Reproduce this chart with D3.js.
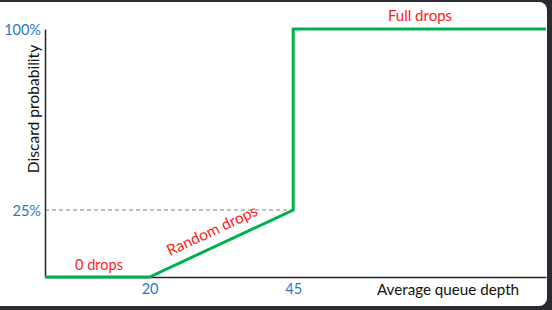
<!DOCTYPE html>
<html>
<head>
<meta charset="utf-8">
<script src="https://cdn.jsdelivr.net/npm/d3@7"></script>
<style>
  html, body { margin: 0; padding: 0; background: #2b2b2f; }
  svg { display: block; }
  text { font-family: Lato, "Open Sans", sans-serif; }
</style>
</head>
<body>
<div id="chart"></div>
<script>
var svgWidth = 552;
var svgHeight = 310;

// curve points (average queue depth, discard probability %)
var depth = [1.8, 20, 45, 45, 89];
var probability = [0, 0, 25, 100, 100];

var xTicks = [20, 45];
var yTicks = [25, 100];
var yTickLabels = ["25%", "100%"];

var svg = d3.select("#chart")
  .append("svg")
  .attr("width", svgWidth)
  .attr("height", svgHeight);

// white card
svg.append("rect")
  .attr("x", -10)
  .attr("y", 2)
  .attr("width", 557)
  .attr("height", 304)
  .attr("rx", 8)
  .attr("fill", "#ffffff");

var xScale = d3.scaleLinear()
  .domain([1.8, 89])
  .range([45, 546]);

// schematic y axis: lower band is stretched
var yScale = d3.scaleLinear()
  .domain([0, 25, 100])
  .range([277, 210, 29]);

// dashed guide at 25%
svg.append("line")
  .attr("x1", xScale(1.8))
  .attr("x2", xScale(45))
  .attr("y1", yScale(25))
  .attr("y2", yScale(25))
  .attr("stroke", "#808080")
  .attr("stroke-width", 1)
  .attr("stroke-dasharray", "4,3");

// axes
var bottomAxis = d3.axisBottom(xScale)
  .tickValues(xTicks)
  .tickSize(0)
  .tickPadding(7);

var leftAxis = d3.axisLeft(yScale)
  .tickValues(yTicks)
  .tickSize(0)
  .tickPadding(4)
  .tickFormat((d, i) => yTickLabels[i]);

var xAxis = svg.append("g")
  .attr("transform", `translate(0, ${yScale(0)})`)
  .call(bottomAxis);

var yAxis = svg.append("g")
  .attr("transform", `translate(${xScale(1.8)}, 0)`)
  .call(leftAxis);

[xAxis, yAxis].forEach(a => {
  a.select(".domain").attr("stroke", "#222").attr("stroke-width", 1.5);
  a.selectAll(".tick text")
    .attr("fill", "#2479cc")
    .style("font-size", "14.5px")
    .style("font-family", "Lato, 'Open Sans', sans-serif");
});
yAxis.selectAll(".tick text").attr("dy", "0.35em");

// the curve
var line = d3.line()
  .x((d, i) => xScale(depth[i]))
  .y(d => yScale(d));

svg.append("path")
  .datum(probability)
  .attr("d", line)
  .attr("fill", "none")
  .attr("stroke", "#00b050")
  .attr("stroke-width", 3)
  .attr("stroke-linejoin", "miter");

// axis titles
svg.append("text")
  .attr("x", 448)
  .attr("y", 295)
  .attr("text-anchor", "middle")
  .attr("fill", "#111")
  .style("font-size", "15.2px")
  .text("Average queue depth");

svg.append("text")
  .attr("transform", "translate(39, 109) rotate(-90)")
  .attr("text-anchor", "middle")
  .attr("fill", "#111")
  .style("font-size", "15.6px")
  .text("Discard probability");

// region labels
svg.append("text")
  .attr("x", 420)
  .attr("y", 21)
  .attr("text-anchor", "middle")
  .attr("fill", "#ff2020")
  .style("font-size", "15px")
  .text("Full drops");

svg.append("text")
  .attr("x", 99)
  .attr("y", 270)
  .attr("text-anchor", "middle")
  .attr("fill", "#ff2020")
  .style("font-size", "14.5px")
  .text("0 drops");

var angle = Math.atan2(yScale(25) - yScale(0), xScale(45) - xScale(20)) * 180 / Math.PI;
svg.append("text")
  .attr("transform", `translate(${(xScale(20) + xScale(45)) / 2 - 7}, ${(yScale(0) + yScale(25)) / 2 - 8}) rotate(${angle})`)
  .attr("text-anchor", "middle")
  .attr("fill", "#ff2020")
  .style("font-size", "15.5px")
  .text("Random drops");
</script>
</body>
</html>
